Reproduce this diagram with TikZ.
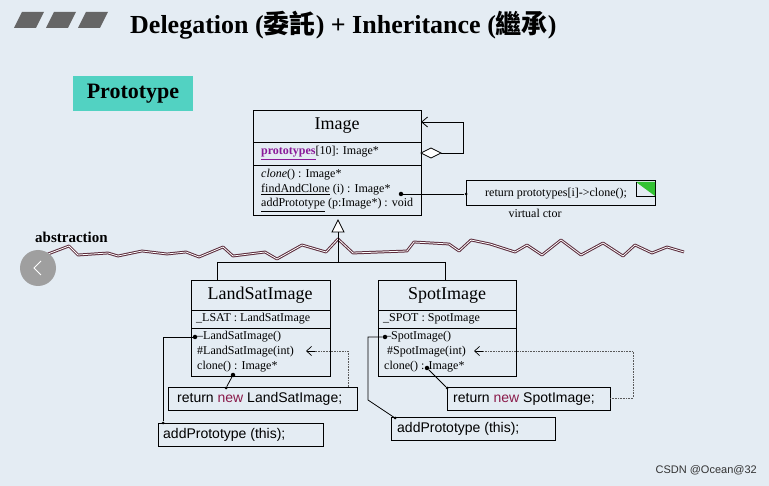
\documentclass[tikz,border=0pt]{standalone}
\usepackage{fontspec}
\setmainfont{Liberation Serif}
\setsansfont{Liberation Sans}
\newfontfamily\cjk{Noto Sans CJK TC}
\usetikzlibrary{arrows.meta}
\definecolor{bg}{HTML}{E4ECF3}
\definecolor{teal}{HTML}{52D2C2}
\definecolor{wave}{HTML}{5A2A3A}
\definecolor{purp}{HTML}{8A1A9A}
\definecolor{kw}{HTML}{8A1A4A}
\tikzset{
  box/.style={draw=black,line width=0.8pt,fill=bg},
  conn/.style={line width=0.8pt},
  dot/.style={circle,fill=black,inner sep=0pt,minimum size=4.5pt},
  dotl/.style={densely dotted,line width=0.6pt,draw=gray!70!black},
  mem/.style={anchor=west,inner sep=0pt,font=\fontsize{12}{13}\selectfont},
  cname/.style={inner sep=0pt,font=\fontsize{18}{19}\selectfont},
  code/.style={anchor=west,inner sep=0pt,font=\sffamily\fontsize{14}{15}\selectfont},
}
\begin{document}
\begin{tikzpicture}[x=1pt,y=-1pt]
\fill[bg] (0,0) rectangle (769,486);
\useasboundingbox (0,0) rectangle (769,486);
% markers
\foreach \i in {0,1,2}{\fill[gray!80!black] (14+\i*32,28) -- (22+\i*32,12) -- (44+\i*32,12) -- (36+\i*32,28) -- cycle;}
\node[anchor=west,inner sep=0pt,font=\bfseries\fontsize{26}{27}\selectfont] (title) at (130,25) {Delegation ({\cjk 委託}) + Inheritance ({\cjk 繼承})};
\node[fill=teal,minimum width=120,minimum height=35,inner sep=0pt,font=\bfseries\fontsize{22}{24}\selectfont] (proto) at (133,94) {Prototype};
% Image class
\draw[box] (253,110) rectangle (421,215);
\draw[line width=0.8pt] (253,142) -- (421,142) (253,165) -- (421,165);
\node[cname] (imgname) at (337,126) {Image};
\node[mem] (attr) at (261,153) {\textcolor{purp}{\textbf{\underline{prototypes}}}[10]: Image*};
\node[mem] (m1) at (261,175) {\textit{clone}() : Image*};
\node[mem] (m2) at (261,190) {\underline{findAndClone} (i) : Image*};
\node[mem] (m3) at (261,205) {\underline{addPrototype} (p:Image*) : void};
\coordinate (diam) at (421,153);
\coordinate (arr) at (421,122);
\draw[conn,-{Straight Barb[length=6pt,width=10pt]}] (diam) ++(20,0) -- (463,153) -- (463,122) -- (arr);
\draw[conn,fill=white] (421,153) -- (431,148) -- (441,153) -- (431,158) -- cycle;
% note
\draw[box,line width=0.6pt] (466,180) rectangle (655,205);
\fill[green!70!black!80] (636,182) -- (655,182) -- (655,196) -- cycle;
\draw[line width=0.6pt] (636,182) -- (636,196) -- (655,196);
\node[anchor=west,inner sep=0pt,font=\fontsize{12}{13}\selectfont] (note) at (485,194) {return prototypes[i]->clone();};
\node[inner sep=0pt,font=\fontsize{12}{13}\selectfont] (vc) at (535,213) {virtual ctor};
\node[dot] (d1) at (401,194) {};
\node[dot,minimum size=3pt] (d1b) at (466,194) {};
\draw[conn] (d1) -- (d1b);
% abstraction
\node[anchor=west,inner sep=0pt,font=\bfseries\fontsize{15}{16}\selectfont] (abs) at (35,237) {abstraction};
\def\wavepath{(27,262) -- (69,246) -- (78,255) -- (108,253) -- (118,256) -- (142,251) -- (167,254) -- (186,252) -- (199,257) -- (223,247) -- (233,256) -- (265,252) -- (277,259) -- (302,245) -- (326,252) -- (338,239) -- (353,253) -- (407,251) -- (414,242) -- (449,244) -- (459,251) -- (471,240) -- (490,244) -- (515,252) -- (527,245) -- (542,255) -- (561,240) -- (581,255) -- (603,243) -- (623,256) -- (635,245) -- (652,253) -- (667,247) -- (684,252)}
\draw[wave,line width=2.8pt,line join=round] \wavepath;
\draw[white,line width=0.8pt,line join=round] \wavepath;
% inheritance
\coordinate (tri) at (338,232);
\draw[conn] (338,232) -- (338,262) (217,262) -- (445,262) (217,262) -- (217,280) (445,262) -- (445,280);
\draw[conn,fill=white] (338,220) -- (332,232) -- (344,232) -- cycle;
% LandSatImage
\draw[box] (191,280) rectangle (330,376);
\draw[line width=0.8pt] (191,310) -- (330,310) (191,328) -- (330,328);
\node[cname] (lname) at (260,295) {LandSatImage};
\node[mem] (la) at (196,319) {\_LSAT : LandSatImage};
\node[mem] (l1) at (197,337) {\textendash LandSatImage()};
\node[mem] (l2) at (197,352) {\#LandSatImage(int)};
\node[mem] (l3) at (197,367) {clone() : Image*};
% SpotImage
\draw[box] (378,280) rectangle (516,376);
\draw[line width=0.8pt] (378,310) -- (516,310) (378,328) -- (516,328);
\node[cname] (sname) at (447,295) {SpotImage};
\node[mem] (sa) at (383,319) {\_SPOT : SpotImage};
\node[mem] (s1) at (385,337) {\textendash SpotImage()};
\node[mem] (s2) at (387,352) {\#SpotImage(int)};
\node[mem] (s3) at (384,367) {clone() : Image*};
% code boxes
\draw[box] (168,387) rectangle (357,410);
\node[code] (lret) at (177,399) {return \textcolor{kw}{new} LandSatImage;};
\draw[box] (158,423) rectangle (323,446);
\node[code] (ladd) at (163,435) {addPrototype (this);};
\draw[box] (447,387) rectangle (610,410);
\node[code] (sret) at (453,399) {return \textcolor{kw}{new} SpotImage;};
\draw[box] (391,417) rectangle (555,440);
\node[code] (sadd) at (397,429) {addPrototype (this);};
% left connectors
\node[dot] (ld1) at (195,337) {};
\node[dot,minimum size=3pt] (ld2) at (163,423) {};
\draw[conn] (ld1) -- (163,337) -- (ld2);
\node[dot] (lc) at (233,375) {};
\node[dot,minimum size=3pt] (lcb) at (226,388) {};
\draw[conn] (lc) -- (lcb);
\draw[dotl] (348,387) -- (348,351) -- (315,351);
\draw[-{Straight Barb[length=5pt,width=9pt]},line width=0.7pt] (315,351) -- (306,351);
% right connectors
\node[dot] (rd1) at (385,337) {};
\node[dot,minimum size=3pt] (rd2) at (395,418) {};
\draw[conn] (rd1) -- (368,337) -- (368,400) -- (rd2);
\node[dot] (rc) at (427,368) {};
\node[dot,minimum size=3pt] (rcb) at (447,388) {};
\draw[conn] (rc) -- (rcb);
\draw[dotl] (610,398) -- (633,398) -- (633,351) -- (483,351);
\draw[-{Straight Barb[length=5pt,width=9pt]},line width=0.7pt] (483,351) -- (474,351);
% overlay items
\fill[gray!75] (38,268) circle (18);
\draw[white,line width=1pt] (41,261) -- (34,268) -- (41,275);
\node[anchor=east,inner sep=0pt,font=\sffamily\fontsize{11}{12}\selectfont,text=gray!40!black] (wm) at (757,470) {CSDN @Ocean@32};
\end{tikzpicture}
\end{document}
